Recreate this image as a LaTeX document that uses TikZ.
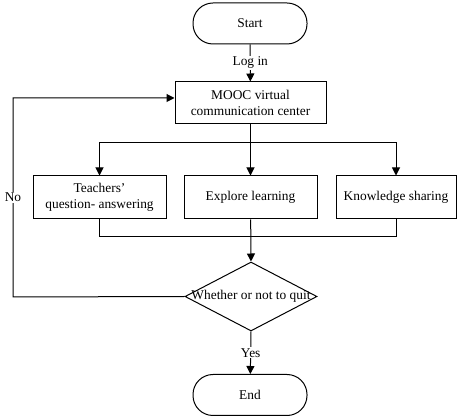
\documentclass[tikz,border=0pt]{standalone}
\usepackage{fontspec}
\setmainfont{Liberation Serif}
\usetikzlibrary{arrows.meta,shapes.geometric}
\begin{document}
\begin{tikzpicture}[x=1pt,y=-1pt,
  font=\fontsize{13.4}{15.5}\selectfont,
  line width=1pt,
  >={Triangle[width=8pt,length=8pt]},
  term/.style={draw,rounded corners=20pt,minimum width=114pt,minimum height=41pt,inner sep=0pt},
  proc/.style={draw,minimum height=43pt,inner sep=0pt,align=center},
  dia/.style={draw,diamond,minimum width=132pt,minimum height=69pt,inner sep=0pt},
  lbl/.style={fill=white,inner sep=1pt}]
\useasboundingbox (0,0) rectangle (474,419);
\node[term] (start) at (250,23.5) {Start};
\node[proc,minimum width=151pt,minimum height=42pt] (mooc) at (250.5,103) {MOOC virtual\\communication center};
\node[proc,minimum width=133pt] (t) at (99.5,197.5) {Teachers'\\question- answering};
\node[proc,minimum width=133pt] (e) at (250.5,197.5) {Explore learning};
\node[proc,minimum width=120pt] (k) at (396,197.5) {Knowledge sharing};
\node[dia] (q) at (251,296.5) {};
\node at (q) {Whether or not to quit};
\node[term] (end) at (250,395) {End};

\coordinate (split) at (250.5,143);
\coordinate (merge) at (250.5,237);
\coordinate (loopL) at (13,297);
\coordinate (loopT) at (13,98);

\draw[->] (start) -- node[lbl,pos=0.5] {Log in} (mooc);
\draw (mooc) -- (split);
\draw[->] (split) -| (t.north);
\draw[->] (split) -| (k.north);
\draw[->] (split) -- (e);
\draw (t.south) |- (merge);
\draw (k.south) |- (merge);
\draw[->] (e) -- (q.north);
\draw[->] (q.west) -- (loopL) -- node[lbl,pos=0.5] {No} (loopT) -- (mooc.west |- loopT);
\draw[->] (q.south) -- node[lbl,pos=0.5] {Yes} (end);
\end{tikzpicture}
\end{document}
